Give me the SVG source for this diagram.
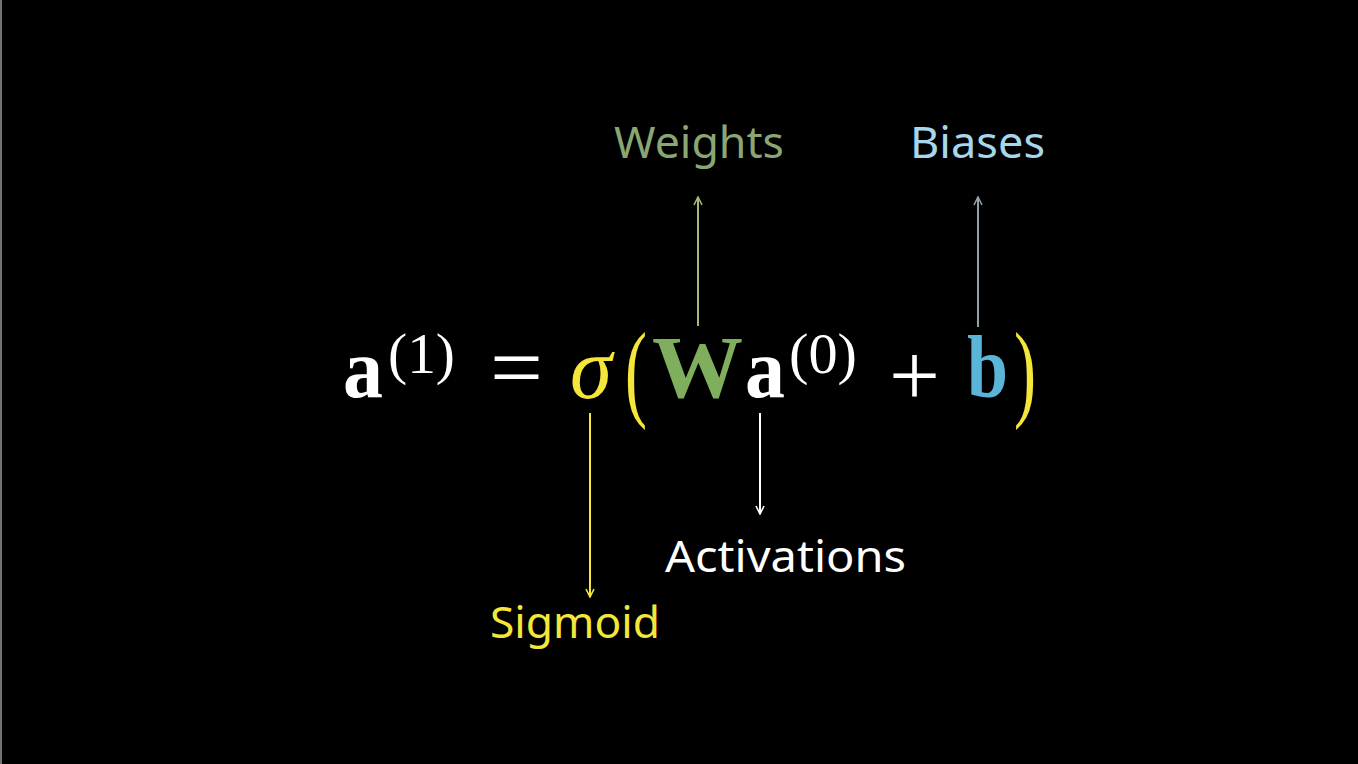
<svg xmlns="http://www.w3.org/2000/svg" width="1358" height="764" viewBox="0 0 1358 764">
<style>
.lbl{font-family:"Noto Sans","Open Sans",sans-serif;font-size:44px}
.m{font-family:"Liberation Serif","DejaVu Serif",serif}
.mb{font-family:"Liberation Serif","DejaVu Serif",serif;font-weight:bold}
</style>
<defs>
<marker id="ah" viewBox="0 0 10 10" refX="9" refY="5" markerWidth="10" markerHeight="10" markerUnits="userSpaceOnUse" orient="auto">
<path d="M1,1 L9,5 L1,9" fill="none" stroke="context-stroke" stroke-width="1.6"/>
</marker>
</defs>
<rect width="1358" height="764" fill="#000"/>
<line x1="1" y1="0" x2="1" y2="764" stroke="#9a9a9a" stroke-width="1.5"/>

<g id="equation">
<text class="mb" x="343" y="397" font-size="84" fill="#fff" textLength="40" lengthAdjust="spacingAndGlyphs">a</text>
<text class="m" x="388" y="373" font-size="58" fill="#fff" textLength="67" lengthAdjust="spacingAndGlyphs">(1)</text>
<text class="m" x="490" y="397" font-size="88" fill="#fff" textLength="53" lengthAdjust="spacingAndGlyphs">=</text>
<text class="m" x="570" y="398" font-size="88" font-style="italic" fill="#f5e63a" textLength="42" lengthAdjust="spacingAndGlyphs">σ</text>
<text class="m" x="0" y="0" font-size="88" fill="#f5e63a" transform="translate(625,407) scale(1,1.22)" textLength="22" lengthAdjust="spacingAndGlyphs">(</text>
<text class="mb" x="652" y="397" font-size="88" fill="#7fae5c" textLength="91" lengthAdjust="spacingAndGlyphs">W</text>
<text class="mb" x="745" y="397" font-size="84" fill="#fff" textLength="40" lengthAdjust="spacingAndGlyphs">a</text>
<text class="m" x="789" y="373" font-size="58" fill="#fff" textLength="68" lengthAdjust="spacingAndGlyphs">(0)</text>
<text class="m" x="889" y="405" font-size="88" fill="#fff" textLength="51" lengthAdjust="spacingAndGlyphs">+</text>
<text class="mb" x="967" y="397" font-size="88" fill="#5ab6d9" textLength="41" lengthAdjust="spacingAndGlyphs">b</text>
<text class="m" x="0" y="0" font-size="88" fill="#f5e63a" transform="translate(1014,407) scale(1,1.22)" textLength="22" lengthAdjust="spacingAndGlyphs">)</text>
</g>

<g id="weights"><text class="lbl" x="614" y="158" fill="#8aa673" textLength="170" lengthAdjust="spacingAndGlyphs">Weights</text></g>
<g id="biases"><text class="lbl" x="910" y="158" fill="#a6d7ea" textLength="135" lengthAdjust="spacingAndGlyphs">Biases</text></g>
<g id="activations"><text class="lbl" x="665" y="572" fill="#fff" textLength="241" lengthAdjust="spacingAndGlyphs">Activations</text></g>
<g id="sigmoid"><text class="lbl" x="490" y="638" fill="#f5e63a" textLength="170" lengthAdjust="spacingAndGlyphs">Sigmoid</text></g>

<g id="connectors" fill="none" stroke-width="2">
<line x1="698" y1="326" x2="698" y2="197" stroke="#a3b878" marker-end="url(#ah)"/>
<line x1="978" y1="327" x2="978" y2="197" stroke="#8ea2aa" marker-end="url(#ah)"/>
<line x1="590" y1="413" x2="590" y2="597" stroke="#f5e63a" marker-end="url(#ah)"/>
<line x1="760" y1="413" x2="760" y2="514" stroke="#fff" marker-end="url(#ah)"/>
</g>
</svg>
